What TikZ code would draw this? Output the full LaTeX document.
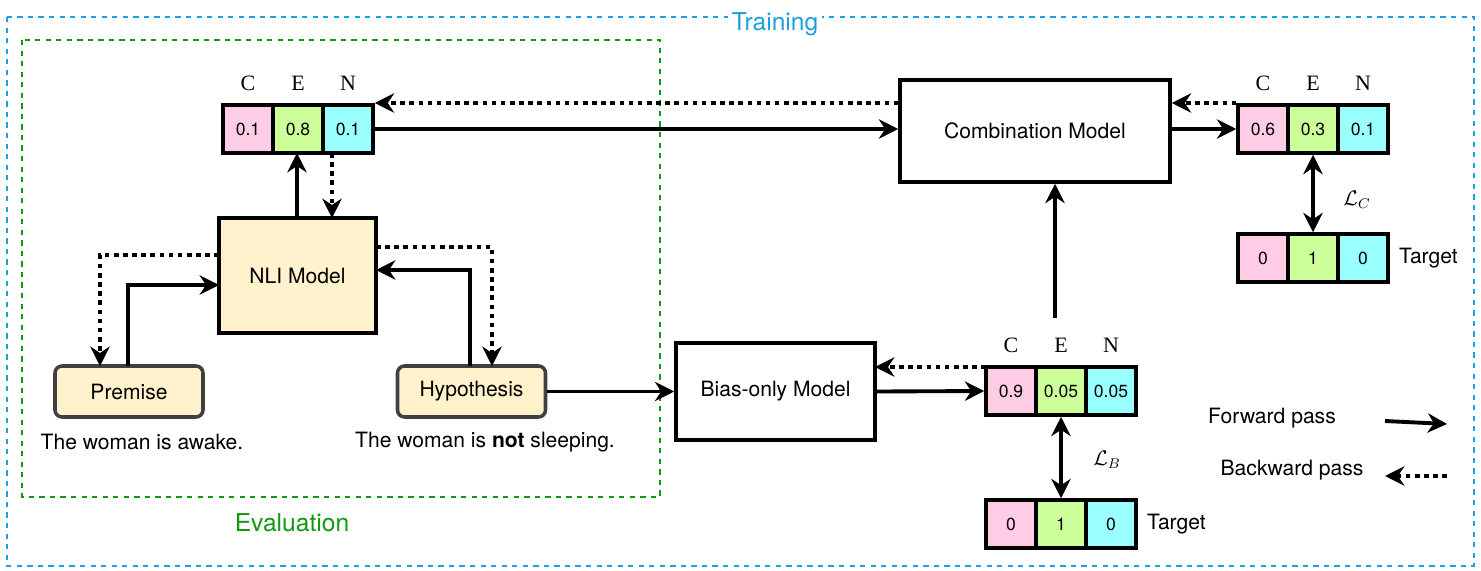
\documentclass[tikz,border=0pt]{standalone}
\usepackage{fontspec}
\setmainfont{TeX Gyre Heros}
\newfontfamily\tms{Liberation Serif}
\usetikzlibrary{arrows.meta}
\definecolor{cpink}{HTML}{FFCCE6}
\definecolor{cgreen}{HTML}{CCFF99}
\definecolor{ccyan}{HTML}{99FFFF}
\definecolor{cyel}{HTML}{FFF2CC}
\definecolor{cblue}{HTML}{1BA1E2}
\definecolor{cgr}{HTML}{119911}
\tikzset{
 cell/.style={draw,line width=2pt,minimum width=50*0.02cm,minimum height=48*0.02cm,inner sep=0pt,font=\fontsize{10}{12}\selectfont},
 box/.style={draw,line width=2pt,inner sep=0pt,font=\fontsize{12}{14}\selectfont},
 inp/.style={draw=black!75,line width=2pt,fill=cyel,rounded corners=4pt,minimum width=148*0.02cm,minimum height=51*0.02cm,font=\fontsize{12}{14}\selectfont},
 lab/.style={font=\tms\fontsize{12.5}{14}\selectfont},
 fw/.style={line width=2.2pt,-{Stealth[length=11pt,width=11pt]}},
 bw/.style={line width=2.2pt,dash pattern=on 2.6pt off 2.6pt,-{Stealth[length=11pt,width=11pt]}},
 bi/.style={line width=2.2pt,{Stealth[length=11pt,width=11pt]}-{Stealth[length=11pt,width=11pt]}},
 txt/.style={font=\fontsize{12}{14}\selectfont}
}
\newcommand{\vecr}[5]{%
 \node[cell,fill=cpink] (#1c) at (#2+25,#3) {#4};
 \node[cell,fill=cgreen] (#1e) at (#2+75,#3) {#5};
}
\begin{document}
\begin{tikzpicture}[x=0.02cm,y=-0.02cm]
\useasboundingbox (0,0) rectangle (1481,571);
\draw[cblue,dashed,line width=1.5pt] (7,17) rectangle (1474,566);
\node[text=cblue,fill=white,inner sep=2pt,font=\fontsize{14}{16}\selectfont] (ttrain) at (775,24) {Training};
\draw[cgr,dashed,line width=1.5pt] (22,40) rectangle (660,497);
\node[text=cgr,font=\fontsize{14}{16}\selectfont] (teval) at (292,523) {Evaluation};

\vecr{a}{223}{129}{0.1}{0.8}
\node[cell,fill=ccyan] (an) at (348,129) {0.1};
\node[lab] (la1) at (248,83) {C};\node[lab] (la2) at (298,83) {E};\node[lab] (la3) at (348,83) {N};
\vecr{b}{1238}{129}{0.6}{0.3}
\node[cell,fill=ccyan] (bn) at (1363,129) {0.1};
\node[lab] (lb1) at (1263,83) {C};\node[lab] (lb2) at (1313,83) {E};\node[lab] (lb3) at (1363,83) {N};
\vecr{t}{1238}{258}{0}{1}
\node[cell,fill=ccyan] (tn) at (1363,258) {0};
\node[txt,anchor=west] (tt) at (1393,258) {Target};
\vecr{c}{986}{391}{0.9}{0.05}
\node[cell,fill=ccyan] (cn) at (1111,391) {0.05};
\node[lab] (lc1) at (1011,345) {C};\node[lab] (lc2) at (1061,345) {E};\node[lab] (lc3) at (1111,345) {N};
\vecr{u}{986}{524}{0}{1}
\node[cell,fill=ccyan] (un) at (1111,524) {0};
\node[txt,anchor=west] (ut) at (1141,524) {Target};

\node[box,minimum width=270*0.02cm,minimum height=102*0.02cm] (comb) at (1035,131) {Combination Model};
\node[box,fill=cyel,minimum width=157*0.02cm,minimum height=115*0.02cm] (nli) at (297.5,275.5) {NLI Model};
\node[box,minimum width=199*0.02cm,minimum height=97*0.02cm] (bias) at (775.5,391.5) {Bias-only Model};
\node[inp] (prem) at (129,391.5) {Premise};
\node[inp] (hyp) at (471.5,391.5) {Hypothesis};
\node[txt] (tp) at (142,442) {The woman is awake.};
\node[txt] (th) at (485,442) {The woman is \textbf{not} sleeping.};

\draw[fw] (an.east) -- (an.east -| comb.west);
\draw[bw] (comb.west |- 0,103) -- (an.east |- 0,103);
\draw[fw] (comb.east |- bc.west) -- (bc.west);
\draw[bw] (bc.west |- 0,103) -- (comb.east |- 0,103);
\draw[fw] (297,218) -- (297,153);
\draw[bw] (332,153) -- (332,218);
\draw[fw] (128,366) -- (128,285) -- (219,285);
\draw[bw] (219,255) -- (100,255) -- (100,366);
\draw[fw] (470,366) -- (470,270) -- (376,270);
\draw[bw] (376,247) -- (492,247) -- (492,366);
\draw[fw] (hyp.east) -- (bias.west);
\draw[fw] (bias.east) -- (cc.west);
\draw[bw] (986,367) -- (875,367);
\draw[fw] (1055,318) -- (comb.south -| 1055,0);
\draw[bi] (ce.south) -- (ue.north);
\draw[bi] (be.south) -- (te.north);
\node[font=\fontsize{12}{14}\selectfont] (lcl) at (1357,200) {$\mathcal{L}_C$};
\node[font=\fontsize{12}{14}\selectfont] (lbl) at (1107,460) {$\mathcal{L}_B$};

\node[txt] (fwl) at (1272,418) {Forward pass};
\node[txt] (bwl) at (1292,470) {Backward pass};
\coordinate (f1) at (1385,421); \coordinate (f2) at (1447,424);
\draw[fw] (f1) -- (f2);
\coordinate (b1) at (1447,476); \coordinate (b2) at (1385,476);
\draw[bw] (b1) -- (b2);
\end{tikzpicture}
\end{document}
